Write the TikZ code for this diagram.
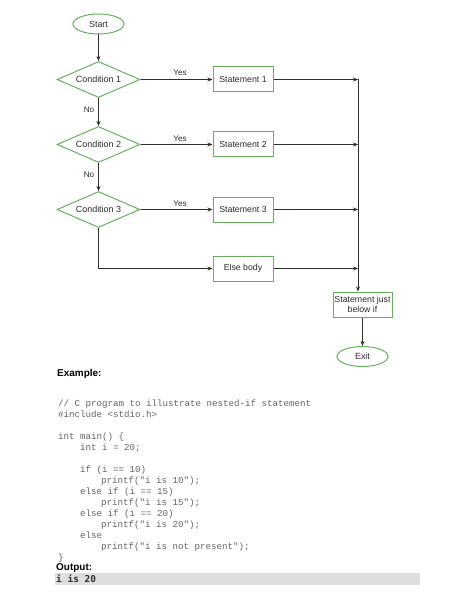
\documentclass[tikz,border=0pt]{standalone}
\usepackage{fontspec}
\setmainfont{Liberation Sans}
\setmonofont{Liberation Mono}
\newfontfamily\outputfont{DejaVu Sans Mono}
\usetikzlibrary{shapes.geometric,arrows.meta}
\definecolor{boxgreen}{RGB}{104,176,96}
\definecolor{linegray}{RGB}{45,45,45}
\definecolor{codegray}{RGB}{100,100,100}
\definecolor{outbar}{RGB}{222,222,222}
\tikzset{
  % shapes of the flow chart
  terminal/.style={ellipse, draw=boxgreen, line width=1bp, minimum width=51bp, minimum height=20bp, inner sep=0pt, font=\fontsize{9}{10}\selectfont, text=linegray},
  decision/.style={diamond, aspect=2.3, draw=boxgreen, line width=1bp, minimum width=83bp, minimum height=36bp, inner sep=0pt, font=\fontsize{9}{10}\selectfont, text=linegray},
  flowbox/.style={rectangle, draw=boxgreen, line width=1bp, minimum width=60bp, minimum height=25bp, inner sep=1pt, align=center, font=\fontsize{8.8}{9.5}\selectfont, text=linegray},
  connector/.style={draw=linegray, line width=1bp, -{Stealth[length=5bp,width=4bp]}},
  edgelabel/.style={font=\fontsize{8.2}{9}\selectfont, text=linegray, inner sep=0pt},
  % text below the chart
  heading/.style={anchor=west, inner sep=0pt, font=\bfseries\fontsize{10}{12}\selectfont, text=black},
  codeline/.style={anchor=west, inner sep=0pt, text height=1.5ex, text depth=.25ex, font=\ttfamily\fontsize{9.2}{11}\selectfont, text=codegray}
}
\begin{document}
\begin{tikzpicture}[x=1bp,y=1bp,yscale=-1]
\useasboundingbox (0,0) rectangle (474,613);

% Terminals
\node [terminal] (start) at (98.5,24) {Start};
\node [terminal] (exit) at (362.5,356.5) {Exit};

% Decisions
\node [decision] (cond1) at (98.5,79.5) {Condition 1};
\node [decision] (cond2) at (98.5,144.5) {Condition 2};
\node [decision] (cond3) at (98.5,209.5) {Condition 3};

% Statements
\node [flowbox] (stmt1) at (243,79.5) {Statement 1};
\node [flowbox] (stmt2) at (243,144.5) {Statement 2};
\node [flowbox] (stmt3) at (243,209.5) {Statement 3};
\node [flowbox] (elsebody) at (243,268.5) {Else body};
\node [flowbox, minimum width=59bp] (after) at (362.5,304.5) {Statement just\\below if};

% Joins on the collecting line
\coordinate (join1) at (358,79.5);
\coordinate (join2) at (358,144.5);
\coordinate (join3) at (358,209.5);
\coordinate (join4) at (358,268.5);

% Connectors
\draw [connector] (start) -- (cond1);
\draw [connector] (cond1) -- (cond2);
\draw [connector] (cond2) -- (cond3);
\draw [connector] (cond1) -- (stmt1);
\draw [connector] (cond2) -- (stmt2);
\draw [connector] (cond3) -- (stmt3);
\draw [connector] (cond3) |- (elsebody);
\draw [connector] (stmt1) -- (join1);
\draw [connector] (stmt2) -- (join2);
\draw [connector] (stmt3) -- (join3);
\draw [connector] (elsebody) -- (join4);
\draw [connector] (join1) -- (join1 |- after.north);
\draw [connector] (after) -- (exit);

% Edge labels
\node [edgelabel] (yes1) at (180,73) {Yes};
\node [edgelabel] (yes2) at (180,138.5) {Yes};
\node [edgelabel] (yes3) at (180,203.5) {Yes};
\node [edgelabel] (no1) at (89,110) {No};
\node [edgelabel] (no2) at (89,175) {No};

% Example text
\node [heading] (example) at (57,374) {Example:};
\node [codeline] (code1) at (58,403) {// C program to illustrate nested-if statement};
\node [codeline] (code2) at (58,414) {\#include <stdio.h>};
\node [codeline] (code3) at (58,436) {int main() \{};
\node [codeline] (code4) at (80,447) {int i = 20;};
\node [codeline] (code5) at (80,469) {if (i == 10)};
\node [codeline] (code6) at (101,480) {printf("i is 10");};
\node [codeline] (code7) at (80,491) {else if (i == 15)};
\node [codeline] (code8) at (101,502) {printf("i is 15");};
\node [codeline] (code9) at (80,513) {else if (i == 20)};
\node [codeline] (code10) at (101,524) {printf("i is 20");};
\node [codeline] (code11) at (80,535) {else};
\node [codeline] (code12) at (101,546) {printf("i is not present");};
\node [codeline] (code13) at (58,557) {\}};

% Output
\node [heading] (output) at (56,568) {Output:};
\fill [outbar] (55,573) rectangle (420,585);
\node [anchor=west, inner sep=0pt, font=\outputfont\bfseries\fontsize{9.5}{11}\selectfont, text=linegray] (result) at (56,579) {i is 20};

\end{tikzpicture}
\end{document}
